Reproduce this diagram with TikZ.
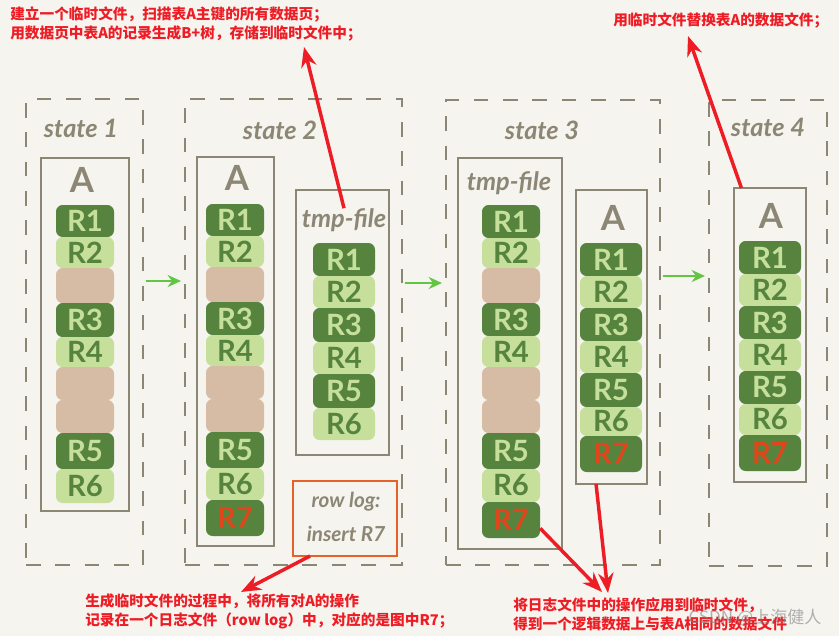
\documentclass[tikz,border=0pt]{standalone}
\usepackage{fontspec}
\usetikzlibrary{arrows.meta}
\newfontfamily\cjk{Noto Sans CJK SC}
\newfontfamily\hand{Lato}
\def\u{.75pt}
\definecolor{paper}{HTML}{F5F4EF}
\definecolor{line gray}{HTML}{8C8674}
\definecolor{cell dark}{HTML}{56843F}
\definecolor{cell light}{HTML}{C6E09C}
\definecolor{cell tan}{HTML}{D6BBA5}
\definecolor{note red}{HTML}{EE1C25}
\definecolor{log orange}{HTML}{E5622A}
\definecolor{new orange}{HTML}{E0461A}
\definecolor{flow green}{HTML}{62C544}
\tikzset{statebox/.style={draw=line gray, line width=1.1pt, dash pattern=on 11pt off 11pt, inner sep=0, outer sep=0},
    tablebox/.style={draw=line gray, line width=1.1pt, inner sep=0, outer sep=0},
    logbox/.style={draw=log orange, line width=1.1pt, inner sep=0, outer sep=0},
    title/.style={text=line gray, inner sep=0, font=\hand\bfseries\itshape\fontsize{19}{19}\selectfont},
    tablename/.style={text=line gray, inner sep=0, font=\hand\bfseries\fontsize{26}{26}\selectfont},
    logtext/.style={text=line gray, inner sep=0, align=center, font=\hand\bfseries\itshape\fontsize{15.5}{25}\selectfont},
    cell/.style={inner sep=0, rounded corners=5pt, font=\hand\bfseries\fontsize{22}{22}\selectfont},
    dark/.style={cell, fill=cell dark, text=cell light},
    light/.style={cell, fill=cell light, text=cell dark},
    free/.style={cell, fill=cell tan},
    new/.style={cell, fill=cell dark, text=new orange},
    note/.style={text=note red, inner sep=0, anchor=west, align=left, font=\cjk\bfseries\fontsize{11}{14.25}\selectfont},
    noteline/.style={draw=note red, line width=2.6pt, -{Stealth[length=15pt,width=11.5pt]}},
    flow/.style={draw=flow green, line width=1.8pt, -{Stealth[length=10pt,width=9pt]}, shorten <=2pt, shorten >=3pt}}
% column: name, x, width, then kind/label/top/bottom
\newcommand\cellcolumn[4]{
    \foreach \kind/\txt/\ya/\yb [count=\i] in {#4} {
        \pgfmathsetmacro\ym{(\ya+\yb)/2}
        \node[\kind, minimum width=#3*\u, minimum height=(\yb-\ya)*\u] (#1\i) at (#2,\ym) {\txt};
    }
}

\begin{document}
\begin{tikzpicture}[x=\u, y=-\u]
    \useasboundingbox (0,0) rectangle (839,636);
    \fill[paper] (0,0) rectangle (839,636);

    \node[statebox, minimum width=117*\u, minimum height=466*\u] (state1) at (84.5,332) {};
    \node[statebox, minimum width=217*\u, minimum height=466*\u] (state2) at (293.5,332) {};
    \node[statebox, minimum width=214*\u, minimum height=465*\u] (state3) at (553,332.5) {};
    \node[statebox, minimum width=118*\u, minimum height=466*\u] (state4) at (768,333) {};

    \node[title] (title1) at (81,128) {state 1};
    \node[title] (title2) at (280,130) {state 2};
    \node[title] (title3) at (542,130) {state 3};
    \node[title] (title4) at (768,127) {state 4};

    \node[tablebox, minimum width=88*\u, minimum height=353*\u] (table1) at (85,334.5) {};
    \node[tablebox, minimum width=77*\u, minimum height=389*\u] (table2) at (235.5,351.5) {};
    \node[tablebox, minimum width=93*\u, minimum height=265*\u] (tmpbox2) at (342.5,322.5) {};
    \node[tablebox, minimum width=104*\u, minimum height=391*\u] (tmpbox3) at (510,353.5) {};
    \node[tablebox, minimum width=71*\u, minimum height=294*\u] (table3) at (611.5,337) {};
    \node[tablebox, minimum width=72*\u, minimum height=294*\u] (table4) at (770,335) {};
    \node[logbox, minimum width=104*\u, minimum height=75*\u] (rowlog) at (345,518.5) {};

    \node[tablename] (name1) at (82,180) {A};
    \node[tablename] (name2) at (237,178) {A};
    \node[tablename] (name3) at (613,218) {A};
    \node[tablename] (name4) at (771,216) {A};
    \node[title] (tmpname2) at (344,220) {tmp-file};
    \node[title] (tmpname3) at (509,183) {tmp-file};
    \node[logtext] (logtext) at (346,517) {row log:\\insert R7};

    \cellcolumn{a}{85}{58}{dark/R1/205/237, light/R2/237/268, free//268/303, dark/R3/303/337, light/R4/337/367,
        free//367/400, free//400/433, dark/R5/433/469, light/R6/469/503}
    \cellcolumn{b}{235}{58}{dark/R1/204/236, light/R2/236/267, free//267/302, dark/R3/302/335, light/R4/335/366,
        free//366/399, free//399/432, dark/R5/432/468, light/R6/468/500, new/R7/500/536}
    \cellcolumn{c}{344}{62}{dark/R1/243/276, light/R2/276/308, dark/R3/308/342, light/R4/342/374, dark/R5/374/408, light/R6/408/440}
    \cellcolumn{d}{511}{58}{dark/R1/205/238, light/R2/238/268, free//268/303, dark/R3/303/336, light/R4/336/367,
        free//367/400, free//400/433, dark/R5/433/469, light/R6/469/502, new/R7/502/538}
    \cellcolumn{e}{611}{62}{dark/R1/243/276, light/R2/276/308, dark/R3/308/341, light/R4/341/373, dark/R5/373/407, light/R6/407/436, new/R7/436/472}
    \cellcolumn{f}{770}{62}{dark/R1/241/274, light/R2/274/306, dark/R3/306/339, light/R4/339/371, dark/R5/371/404, light/R6/404/435, new/R7/435/471}

    \node[note] (note1) at (10,23.5) {建立一个临时文件，扫描表A主键的所有数据页；\\用数据页中表A的记录生成B+树，存储到临时文件中；};
    \node[note] (note2) at (613,20) {用临时文件替换表A的数据文件；};
    \node[note] (note3) at (85,611.5) {生成临时文件的过程中，将所有对A的操作\\记录在一个日志文件（row log）中，对应的是图中R7；};
    \node[note] (note4) at (513,614.5) {将日志文件中的操作应用到临时文件，\\得到一个逻辑数据上与表A相同的数据文件};

    \coordinate (tipfile) at (304,47);
    \coordinate (tipswap) at (688,36);
    \coordinate (tiplog) at (241,592);
    \coordinate (tipmerge) at (602,592);
    \coordinate (tipapply) at (608,593);
    \draw[noteline] (tmpname2.north) -- (tipfile);
    \draw[noteline] (table4.101.5) -- (tipswap);
    \draw[noteline] (rowlog.-133) -- (tiplog);
    \draw[noteline] (d10.-16) -- (tipmerge);
    \draw[noteline] (table3.-96.4) -- (tipapply);

    \foreach \from/\to/\y in {state1/state2/281, state2/state3/283, state3/state4/276} {
        \coordinate (level) at (0,\y);
        \draw[flow] (\from.east |- level) -- (\to.west |- level);
    }

    \node[text=gray, opacity=.6, inner sep=0, font=\cjk\fontsize{12.8}{12.8}\selectfont] (mark) at (755,618) {CSDN @上海健人};
\end{tikzpicture}
\end{document}
